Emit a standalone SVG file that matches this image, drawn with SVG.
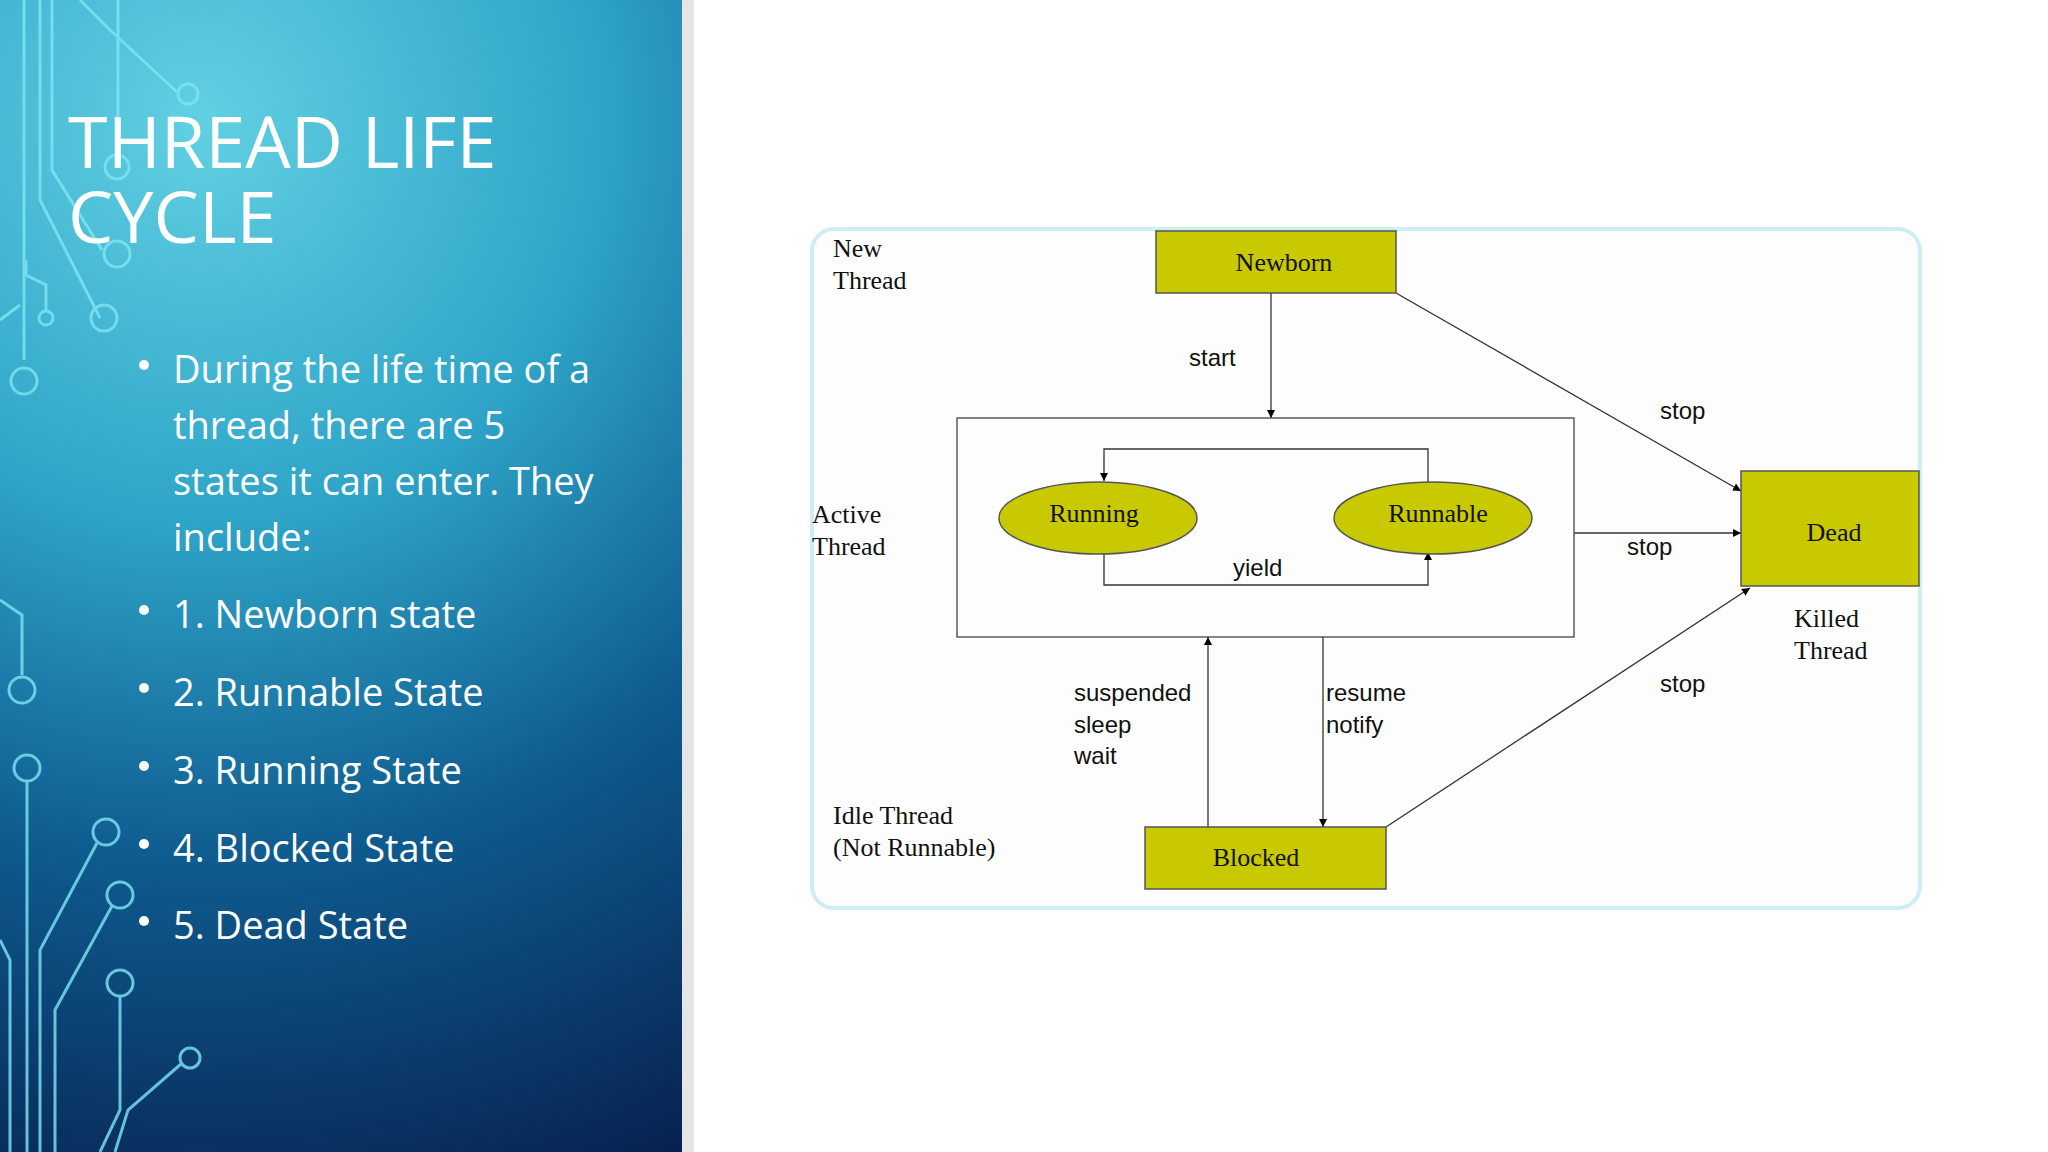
<svg xmlns="http://www.w3.org/2000/svg" width="2048" height="1152" viewBox="0 0 2048 1152">
<defs>
<radialGradient id="bg" cx="200" cy="120" r="1150" gradientUnits="userSpaceOnUse">
<stop offset="0" stop-color="#62d0e2"/>
<stop offset="0.35" stop-color="#2ea4c8"/>
<stop offset="0.65" stop-color="#0e5a8e"/>
<stop offset="1" stop-color="#071f4d"/>
</radialGradient>
<marker id="ah" viewBox="0 0 10 10" refX="10" refY="5" markerWidth="8" markerHeight="8" orient="auto" markerUnits="userSpaceOnUse"><path d="M0,0 L10,5 L0,10 z" fill="#000"/></marker>
<style>
.ser{font-family:"Liberation Serif",serif;font-size:26px;fill:#111}
.san{font-family:"Liberation Sans",sans-serif;font-size:24px;fill:#111}
.node{fill:#c9c900;stroke:#555;stroke-width:1.5}
.ln{stroke:#333;stroke-width:1.3;fill:none}
.wt{font-family:"Open Sans","Noto Sans",sans-serif;fill:#fff}
.cir{stroke:#7fe6f5;stroke-width:3;fill:none;opacity:0.8}
</style>
</defs>
<rect width="2048" height="1152" fill="#fff"/>
<rect x="682" y="0" width="12" height="1152" fill="#ccc" opacity="0.5"/>
<rect width="682" height="1152" fill="url(#bg)"/>
<g class="cir">
<path d="M24 0 V360"/><path d="M40 0 V200 L100 318"/><path d="M52 0 V170 L102 250"/><path d="M80 0 L110 30 L177 92"/><path d="M118 0 V150"/>
<circle cx="188" cy="94" r="10"/><circle cx="117" cy="167" r="12"/><circle cx="117" cy="254" r="13"/><circle cx="104" cy="318" r="13"/><circle cx="24" cy="381" r="13"/><circle cx="46" cy="318" r="7"/>
<path d="M0 320 L20 305"/><path d="M46 311 V285 L26 275 V260"/>
<path d="M0 600 L22 615 V675"/><circle cx="22" cy="690" r="13"/>
<circle cx="27" cy="768" r="13"/><path d="M27 781 V1152"/>
<circle cx="106" cy="832" r="13"/><path d="M97 843 L40 950 V1152"/>
<circle cx="120" cy="895" r="13"/><path d="M112 906 L55 1010 V1152"/>
<circle cx="120" cy="983" r="13"/><path d="M120 996 V1110 L100 1152"/>
<circle cx="190" cy="1058" r="10"/><path d="M181 1064 L128 1110 L115 1152"/>
<path d="M0 940 L10 960 V1152"/>
</g>
<text class="wt" x="68" y="168" font-size="72">THREAD LIFE</text>
<text class="wt" x="68" y="243" font-size="72">CYCLE</text>
<g class="wt" font-size="38">
<circle cx="144" cy="365" r="5" fill="#fff"/>
<text x="173" y="383">During the life time of a</text>
<text x="173" y="439">thread, there are 5</text>
<text x="173" y="495">states it can enter. They</text>
<text x="173" y="551">include:</text>
<circle cx="144" cy="610" r="5" fill="#fff"/><text x="173" y="628">1. Newborn state</text>
<circle cx="144" cy="688" r="5" fill="#fff"/><text x="173" y="706">2. Runnable State</text>
<circle cx="144" cy="766" r="5" fill="#fff"/><text x="173" y="784">3. Running State</text>
<circle cx="144" cy="844" r="5" fill="#fff"/><text x="173" y="862">4. Blocked State</text>
<circle cx="144" cy="921" r="5" fill="#fff"/><text x="173" y="939">5. Dead State</text>
</g>
<rect x="812" y="229" width="1108" height="679" rx="22" fill="#fdfdfd" stroke="#cdeff4" stroke-width="4"/>
<g id="connectors">
<path class="ln" d="M1271 293 V418" marker-end="url(#ah)"/>
<path class="ln" d="M1396 293 L1741 491" marker-end="url(#ah)"/>
<path class="ln" d="M1574 533 H1741" marker-end="url(#ah)"/>
<path class="ln" d="M1386 827 L1750 588" marker-end="url(#ah)"/>
<path class="ln" d="M1208 827 V637" marker-end="url(#ah)"/>
<path class="ln" d="M1323 637 V827" marker-end="url(#ah)"/>
<path class="ln" d="M1428 484 V449 H1104 V481" marker-end="url(#ah)"/>
<path class="ln" d="M1104 552 V585 H1428 V552" marker-end="url(#ah)"/>
<text class="san" x="1189" y="366">start</text>
<text class="san" x="1660" y="419">stop</text>
<text class="san" x="1627" y="555">stop</text>
<text class="san" x="1660" y="692">stop</text>
<text class="san" x="1233" y="576">yield</text>
<text class="san" x="1074" y="701">suspended</text>
<text class="san" x="1074" y="733">sleep</text>
<text class="san" x="1074" y="764">wait</text>
<text class="san" x="1326" y="701">resume</text>
<text class="san" x="1326" y="733">notify</text>
</g>
<g id="active"><rect x="957" y="418" width="617" height="219" fill="none" stroke="#444" stroke-width="1.3"/></g>
<g id="newborn"><rect class="node" x="1156" y="231" width="240" height="62"/><text class="ser" x="1284" y="271" text-anchor="middle">Newborn</text></g>
<g id="running"><ellipse class="node" cx="1098" cy="518" rx="99" ry="36"/><text class="ser" x="1094" y="522" text-anchor="middle">Running</text></g>
<g id="runnable"><ellipse class="node" cx="1433" cy="518" rx="99" ry="36"/><text class="ser" x="1438" y="522" text-anchor="middle">Runnable</text></g>
<g id="dead"><rect class="node" x="1741" y="471" width="178" height="115"/><text class="ser" x="1834" y="541" text-anchor="middle">Dead</text></g>
<g id="blocked"><rect class="node" x="1145" y="827" width="241" height="62"/><text class="ser" x="1256" y="866" text-anchor="middle">Blocked</text></g>
<g class="ser">
<text x="833" y="257">New</text><text x="833" y="289">Thread</text>
<text x="812" y="523">Active</text><text x="812" y="555">Thread</text>
<text x="1794" y="627">Killed</text><text x="1794" y="659">Thread</text>
<text x="833" y="824">Idle Thread</text><text x="833" y="856">(Not Runnable)</text>
</g>
</svg>
